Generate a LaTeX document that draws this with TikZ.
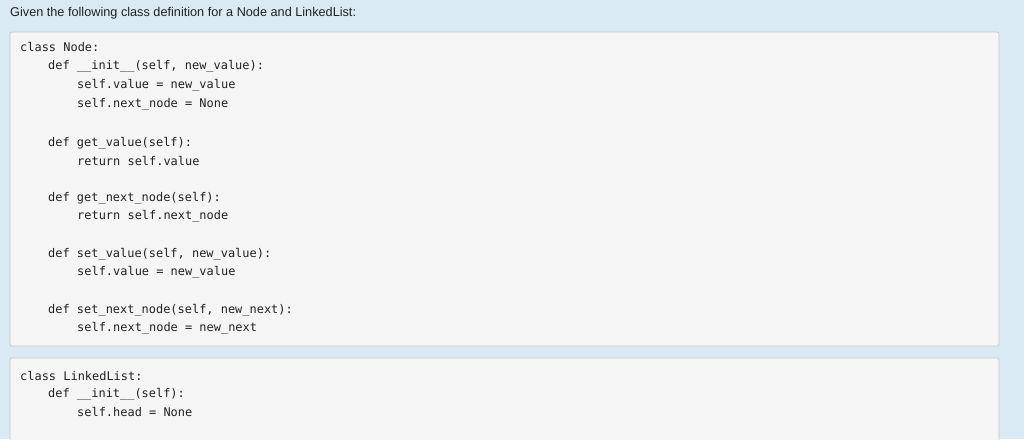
\documentclass[tikz,border=0pt]{standalone}
\usepackage{fontspec}
\setmainfont{Liberation Sans}
\newfontfamily\codefont{DejaVu Sans Mono}
\definecolor{bgblue}{HTML}{D9EAF5}
\definecolor{boxfill}{HTML}{F5F5F5}
\definecolor{boxline}{HTML}{C8C8C8}
\definecolor{txt}{HTML}{222222}
\begin{document}
\begin{tikzpicture}[x=1pt,y=-1pt,
  codebox/.style={fill=boxfill,draw=boxline,line width=0.8pt,rounded corners=2pt},
  code/.style={anchor=west,inner sep=0pt,font=\codefont\fontsize{11.95}{13}\selectfont,text=txt},
  prompt/.style={anchor=west,inner sep=0pt,font=\fontsize{12.7}{14}\selectfont,text=txt}]
\useasboundingbox[fill=bgblue] (0,0) rectangle (1024,439);
\node[prompt] (q) at (10,13) {Given the following class definition for a Node and LinkedList:};
\draw[codebox] (10,32) rectangle (999,346);
\begin{scope}
\clip (0,0) rectangle (1024,439);
\draw[codebox] (10,358) rectangle (999,450);
\end{scope}
\node[code] (l1) at (20,47) {class Node:};
\node[code] (l2) at (48,66) {def \_\_init\_\_(self, new\_value):};
\node[code] (l3) at (77,85) {self.value = new\_value};
\node[code] (l4) at (77,104) {self.next\_node = None};
\node[code] (l5) at (48,143) {def get\_value(self):};
\node[code] (l6) at (77,161) {return self.value};
\node[code] (l7) at (48,198) {def get\_next\_node(self):};
\node[code] (l8) at (77,216) {return self.next\_node};
\node[code] (l9) at (48,254) {def set\_value(self, new\_value):};
\node[code] (l10) at (77,272) {self.value = new\_value};
\node[code] (l11) at (48,310) {def set\_next\_node(self, new\_next):};
\node[code] (l12) at (77,328) {self.next\_node = new\_next};
\node[code] (m1) at (20,376) {class LinkedList:};
\node[code] (m2) at (48,394) {def \_\_init\_\_(self):};
\node[code] (m3) at (77,412) {self.head = None};
\end{tikzpicture}
\end{document}
